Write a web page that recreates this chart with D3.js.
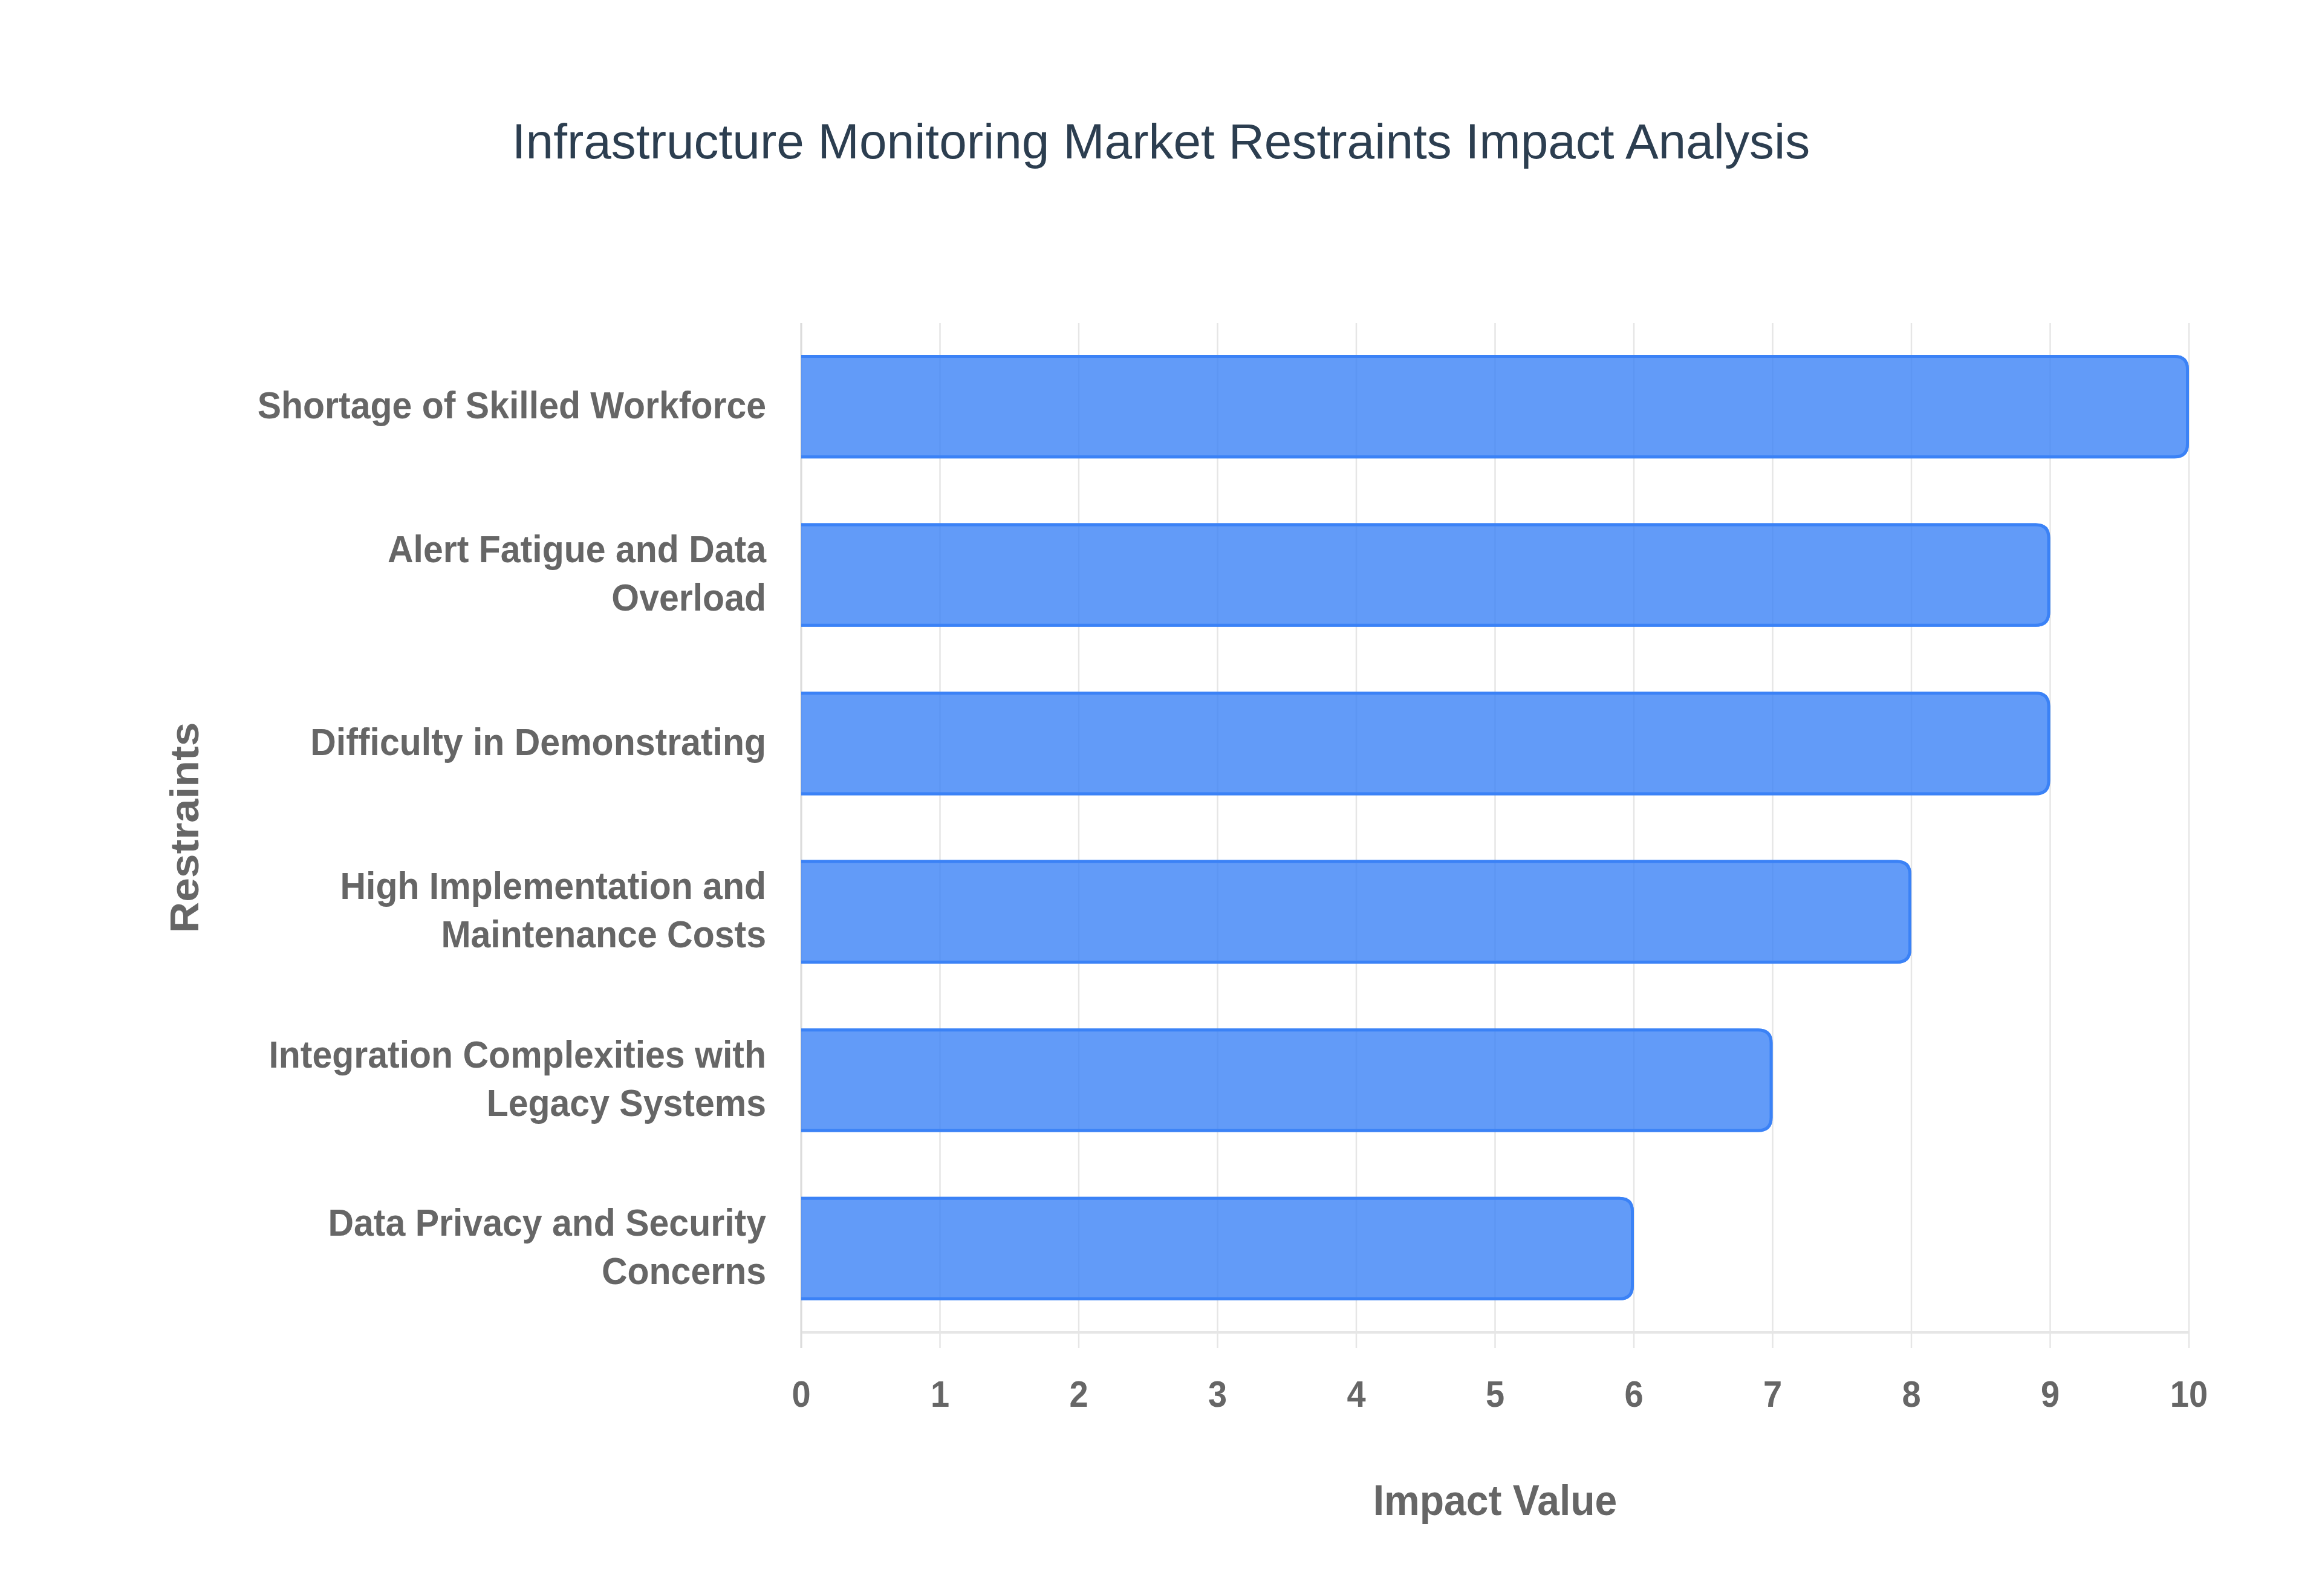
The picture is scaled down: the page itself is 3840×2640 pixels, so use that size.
<!DOCTYPE html>
<html>
<head>
<meta charset="utf-8">
<script src="https://cdn.jsdelivr.net/npm/d3@7"></script>
<style>
  html, body { margin: 0; padding: 0; background: #fff; }
  svg { display: block; }
</style>
</head>
<body>
<div id="chart"></div>
<script>
// chart data
const title = 'Infrastructure Monitoring Market Restraints Impact Analysis';
const restraints = [
  ['Shortage of Skilled Workforce'],
  ['Alert Fatigue and Data', 'Overload'],
  ['Difficulty in Demonstrating'],
  ['High Implementation and', 'Maintenance Costs'],
  ['Integration Complexities with', 'Legacy Systems'],
  ['Data Privacy and Security', 'Concerns']
];
const impact = [10, 9, 9, 8, 7, 6];
const xTicks = [0, 1, 2, 3, 4, 5, 6, 7, 8, 9, 10];
const xTitle = 'Impact Value';
const yTitle = 'Restraints';

const W = 3840, H = 2640;
const m = { top: 534, right: 220, bottom: 436, left: 1325 };
const iw = W - m.left - m.right, ih = H - m.top - m.bottom;
const tickCol = '#666', gridCol = '#e6e6e6';
const font = '"Helvetica Neue", Helvetica, Arial, "Liberation Sans", sans-serif';
const sy = 1.08; // labels in the reference are a little taller than wide

const svg = d3.select('#chart').append('svg')
  .attr('width', W).attr('height', H);

svg.append('text')
  .attr('x', W / 2).attr('y', 262)
  .attr('text-anchor', 'middle')
  .attr('font-family', font).attr('font-size', 82)
  .attr('fill', '#2c3e50')
  .text(title);

const g = svg.append('g').attr('transform', `translate(${m.left},${m.top})`);

const x = d3.scaleLinear().domain([0, 10]).range([0, iw]);
const y = d3.scaleBand().domain(restraints.map((d, i) => i)).range([0, ih]).paddingInner(0.385).paddingOuter(0.19);

// vertical grid (runs past the axis as tick marks)
g.append('g').selectAll('line').data(xTicks).join('line')
  .attr('x1', d => x(d)).attr('x2', d => x(d))
  .attr('y1', 0).attr('y2', ih + 26)
  .attr('stroke', gridCol).attr('stroke-width', 2.5);

// axis lines
g.append('line').attr('x1', 0).attr('x2', iw).attr('y1', ih).attr('y2', ih)
  .attr('stroke', gridCol).attr('stroke-width', 4);
g.append('line').attr('x1', 0).attr('x2', 0).attr('y1', 0).attr('y2', ih + 26)
  .attr('stroke', '#dcdcdc').attr('stroke-width', 3);

// bars: square on the left, rounded on the right, no left border
const r = 24, bw = 5;
function barPath(w, h) {
  const rr = Math.min(r, w / 2, h / 2);
  return `M0,0H${w - rr}Q${w},0 ${w},${rr}V${h - rr}Q${w},${h} ${w - rr},${h}H0Z`;
}
function borderPath(w, h) {
  const o = bw / 2, rr = Math.min(r, w / 2, h / 2) - o;
  return `M0,${o}H${w - o - rr}Q${w - o},${o} ${w - o},${o + rr}V${h - o - rr}Q${w - o},${h - o} ${w - o - rr},${h - o}H0`;
}
const bars = g.append('g').selectAll('g').data(impact).join('g')
  .attr('transform', (d, i) => `translate(0,${y(i)})`);
bars.append('path')
  .attr('d', d => barPath(x(d), y.bandwidth()))
  .attr('fill', 'rgba(59,130,246,0.8)');
bars.append('path')
  .attr('d', d => borderPath(x(d), y.bandwidth()))
  .attr('fill', 'none')
  .attr('stroke', '#3b82f6').attr('stroke-width', bw);

// x tick labels
g.append('g').selectAll('text').data(xTicks).join('text')
  .attr('transform', d => `translate(${x(d)},${ih + 123}) scale(1,${sy})`)
  .attr('text-anchor', 'middle')
  .attr('font-family', font).attr('font-weight', 'bold').attr('font-size', 56)
  .attr('fill', tickCol)
  .text(d => d);

// y category labels
const lh = 80;
const yl = g.append('g').selectAll('text').data(restraints).join('text')
  .attr('text-anchor', 'end')
  .attr('font-family', font).attr('font-weight', 'bold').attr('font-size', 59)
  .attr('fill', tickCol)
  .attr('transform', (d, i) => `translate(-58,${y(i) + y.bandwidth() / 2 - (d.length - 1) * lh / 2 - 4}) scale(1,${sy})`);
yl.selectAll('tspan').data(d => d).join('tspan')
  .attr('x', 0).attr('y', (d, j) => j * lh / sy)
  .attr('dy', '0.36em')
  .text(d => d);

// axis titles
svg.append('text')
  .attr('transform', `translate(${m.left + iw / 2},2506) scale(1,${sy})`)
  .attr('text-anchor', 'middle')
  .attr('font-family', font).attr('font-weight', 'bold').attr('font-size', 66)
  .attr('fill', tickCol)
  .text(xTitle);

svg.append('text')
  .attr('transform', `translate(328,${m.top + ih / 2}) scale(1,${sy}) rotate(-90)`)
  .attr('text-anchor', 'middle')
  .attr('font-family', font).attr('font-weight', 'bold').attr('font-size', 66)
  .attr('fill', tickCol)
  .text(yTitle);
</script>
</body>
</html>
